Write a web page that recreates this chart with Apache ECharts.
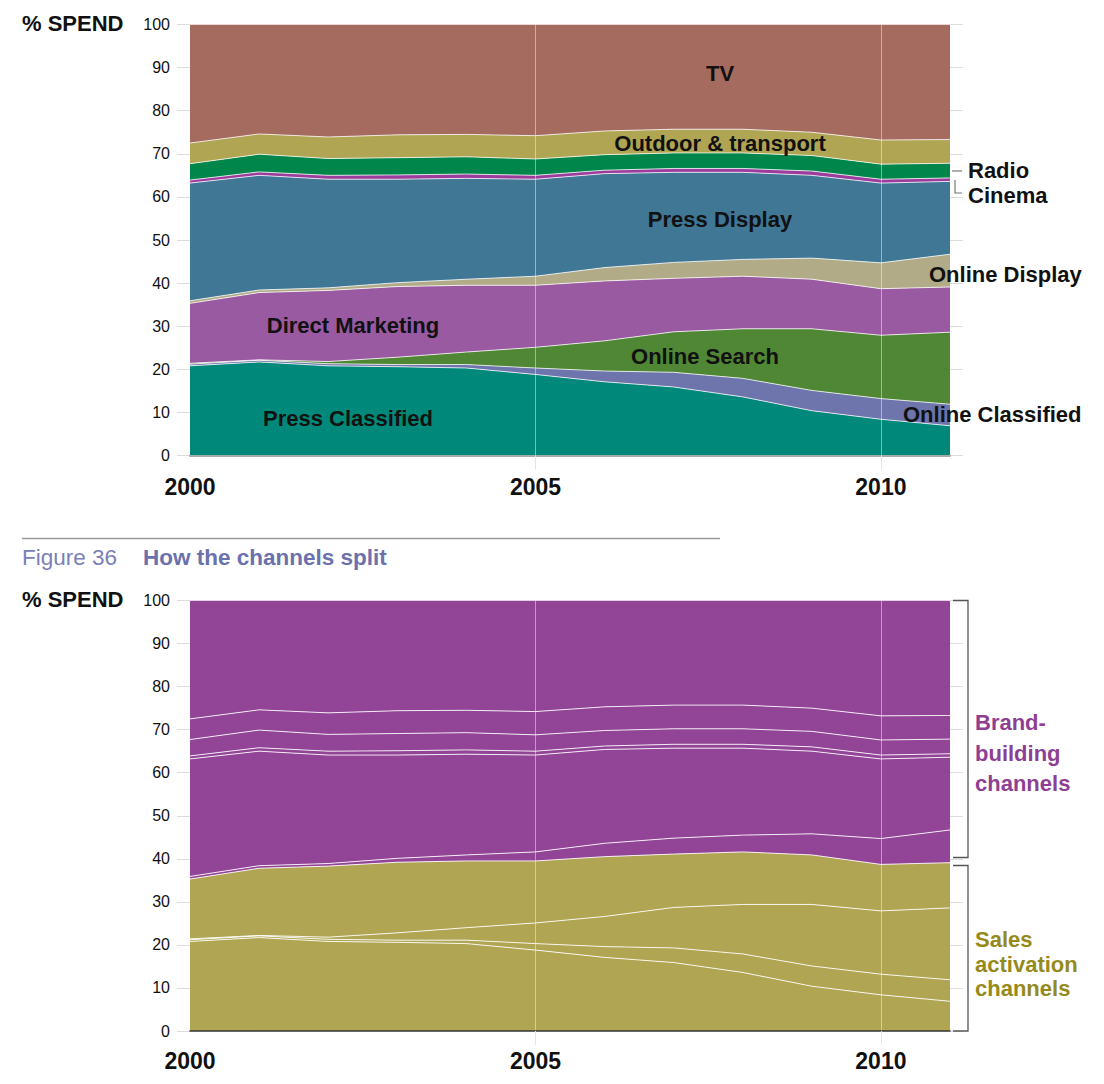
<!DOCTYPE html>
<html>
<head>
<meta charset="utf-8">
<script src="https://cdn.jsdelivr.net/npm/echarts@6/dist/echarts.min.js"></script>
<style>
html,body{margin:0;padding:0;background:#fff;}
#chart{width:1104px;height:1084px;}
</style>
</head>
<body>
<div id="chart"></div>
<script>
// ---- data (percent of spend) ----
const years = ['2000','2001','2002','2003','2004','2005','2006','2007','2008','2009','2010','2011'];
const pressClassified  = [20.8,21.7,20.8,20.6,20.3,18.8,17.1,15.9,13.6,10.4,8.4,6.9];
const onlineClassified = [0.4,0.4,0.5,0.5,0.8,1.5,2.5,3.4,4.3,4.7,4.8,5.0];
const onlineSearch     = [0.2,0.1,0.5,1.7,2.9,4.8,7.0,9.4,11.5,14.3,14.7,16.7];
const directMarketing  = [13.9,15.6,16.5,16.4,15.5,14.4,13.9,12.4,12.2,11.5,10.8,10.5];
const onlineDisplay    = [0.6,0.6,0.6,0.9,1.4,2.1,3.1,3.7,3.9,4.9,6.0,7.6];
const pressDisplay     = [27.3,26.6,25.2,24.0,23.4,22.5,21.8,20.9,20.2,19.2,18.5,16.9];
const cinema           = [0.7,0.8,0.9,1.0,1.0,0.9,0.8,0.9,0.9,1.0,0.9,0.8];
const radio            = [3.8,4.1,3.9,4.0,4.0,3.8,3.6,3.6,3.6,3.6,3.5,3.4];
const outdoor          = [4.8,4.7,5.0,5.3,5.2,5.4,5.5,5.5,5.5,5.4,5.6,5.5];
const tv               = [27.5,25.4,26.1,25.6,25.5,25.8,24.7,24.3,24.3,25.0,26.8,26.7];
const yTicks = [0,10,20,30,40,50,60,70,80,90,100];
const xLabelYears = ['2000','2005','2010'];
const gridYears = ['2005','2010'];

const channelNames = ['Press Classified','Online Classified','Online Search','Direct Marketing','Online Display','Press Display','Cinema','Radio','Outdoor & transport','TV'];
const channelData = [pressClassified,onlineClassified,onlineSearch,directMarketing,onlineDisplay,pressDisplay,cinema,radio,outdoor,tv];
const channelColors = ['#00897a','#6e75ac','#4f8734','#9a5aa2','#b1ac87','#3f7795','#9c3d9e','#00864a','#b0a553','#a66b5f'];
const brandSet = ['Online Display','Press Display','Cinema','Radio','Outdoor & transport','TV'];
const BRAND = '#924496', SALES = '#b0a553';

const FONT = '"Liberation Sans", Arial, sans-serif';
const chart = echarts.init(document.getElementById('chart'), null, {renderer:'svg'});

function xAxisCfg(gi){
  return {
    type:'category', gridIndex:gi, data:years, boundaryGap:false,
    axisLine:{show:true, lineStyle:{color: gi===0 ? '#aaaaaa' : '#333333', width: gi===0 ? 2 : 1.5}},
    axisTick:{show:true, length:14, interval:(i,v)=>gridYears.includes(v), lineStyle:{color:'#e4e4e4'}},
    axisLabel:{interval:(i,v)=>xLabelYears.includes(v), fontFamily:FONT, fontWeight:'bold', fontSize:23, color:'#111', margin: gi===0 ? 20 : 18},
    splitLine:{show:false}, z:5
  };
}
function yAxisCfg(gi, pos){
  return {
    type:'value', gridIndex:gi, min:0, max:100, interval:10, position:pos,
    axisLine:{show:false},
    axisTick:{show:true, length:13, lineStyle:{color:'#dddddd'}},
    axisLabel:{show: pos==='left', fontFamily:FONT, fontSize:16, color:'#111', margin:20},
    splitLine:{show:false}
  };
}

const series = [];
[0,1].forEach(gi=>{
  channelNames.forEach((name,k)=>{
    const isTop = k===channelNames.length-1;
    const color = gi===0 ? channelColors[k] : (brandSet.includes(name) ? BRAND : SALES);
    const s = {
      name: name, type:'line', xAxisIndex:gi, yAxisIndex:gi*2, stack:'s'+gi,
      data: channelData[k], showSymbol:false, symbol:'none', smooth:false,
      lineStyle:{color: gi===0 ? 'rgba(255,255,255,0.75)' : 'rgba(255,255,255,0.85)', width: isTop ? 0 : 1},
      areaStyle:{color: color, opacity:1},
      itemStyle:{color: color},
      emphasis:{disabled:true}, silent:true, z:2
    };
    if(isTop){
      s.markLine = {
        silent:true, symbol:'none', label:{show:false},
        lineStyle:{color:'rgba(255,255,255,0.45)', width:1, type:'solid'},
        data: gridYears.map(y=>({xAxis:y}))
      };
    }
    series.push(s);
  });
});

const TXT = (text, x, y, opts={}) => ({
  type:'text', x:x, y:y, z:100, silent:true,
  style:Object.assign({text, fontFamily:FONT, fontSize:22, fontWeight:'bold', fill:'#111', align:'left', verticalAlign:'middle'}, opts)
});
const C = (text, cx, cy) => TXT(text, cx, cy, {align:'center'});
const L = (points, color, w) => ({type:'polyline', z:100, silent:true, shape:{points}, style:{stroke:color, lineWidth:w, fill:null}});

chart.setOption({
  animation:false,
  backgroundColor:'#ffffff',
  grid:[
    {left:190, top:24.5, width:760, height:431},
    {left:190, top:600.5, width:760, height:430.5}
  ],
  xAxis:[xAxisCfg(0), xAxisCfg(1)],
  yAxis:[yAxisCfg(0,'left'), yAxisCfg(0,'right'), yAxisCfg(1,'left'), yAxisCfg(1,'right')],
  series: series,
  graphic:[
    TXT('% SPEND', 22, 23),
    TXT('% SPEND', 22, 599),
    C('TV', 720, 73),
    C('Outdoor & transport', 720, 143),
    C('Press Display', 720, 219),
    C('Direct Marketing', 353, 325),
    C('Online Search', 705, 356),
    C('Press Classified', 348, 418),
    TXT('Online Classified', 903, 414),
    TXT('Online Display', 929, 274),
    TXT('Radio', 968, 170),
    TXT('Cinema', 968, 195),
    L([[952,171],[962,171]], '#777', 1.2),
    L([[955,180],[955,193],[962,193]], '#777', 1.2),
    L([[22,538.5],[720,538.5]], '#9a9a9a', 1.5),
    TXT('Figure 36', 22, 557, {fontWeight:'normal', fill:'#7a80b8', fontSize:22.5}),
    TXT('How the channels split', 143, 557, {fill:'#6b71ad', fontSize:22.5}),
    L([[953,600.5],[968,600.5],[968,857.5],[953,857.5]], '#555', 1.3),
    L([[953,865.5],[968,865.5],[968,1031],[953,1031]], '#555', 1.3),
    TXT('Brand-', 975, 722, {fill:'#8e3f93'}),
    TXT('building', 975, 753, {fill:'#8e3f93'}),
    TXT('channels', 975, 783, {fill:'#8e3f93'}),
    TXT('Sales', 975, 939, {fill:'#958a1a'}),
    TXT('activation', 975, 964, {fill:'#958a1a'}),
    TXT('channels', 975, 988, {fill:'#958a1a'})
  ]
});
</script>
</body>
</html>
